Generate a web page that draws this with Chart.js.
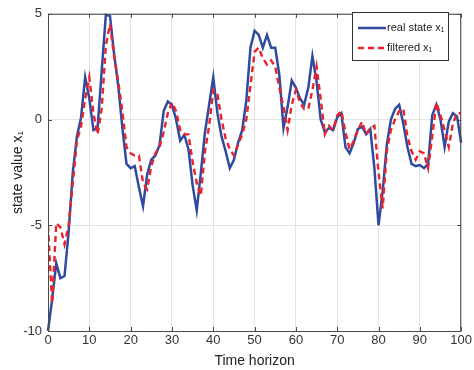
<!DOCTYPE html>
<html>
<head>
<meta charset="utf-8">
<script src="https://cdn.jsdelivr.net/npm/chart.js@4.4.0/dist/chart.umd.min.js"></script>
<style>
  html, body { margin: 0; padding: 0; background: #fff; }
  #wrap { width: 474px; height: 370px; }
</style>
</head>
<body>
<div id="wrap"><canvas id="myChart" width="474" height="370"></canvas></div>
<script>
// 時間軸 0..100
const timeSteps = Array.from({ length: 101 }, (_, i) => i);

// 実際の状態 x1
const realState = [
  -10, -8.5, -6.8, -7.5, -7.4, -5.3, -2.5, -0.8, 0.1, 2.0,
  1.0, -0.5, -0.4, 2.3, 4.95, 4.9, 3.1, 1.6, -0.4, -2.1,
  -2.3, -2.2, -3.2, -4.1, -2.6, -1.9, -1.7, -1.2, 0.4, 0.85,
  0.7, 0.0, -1.0, -0.72, -1.4, -3.1, -4.3, -2.5, -0.6, 0.7,
  2.0, 0.3, -0.8, -1.5, -2.3, -1.9, -1.1, -0.5, 0.9, 3.4,
  4.2, 4.0, 3.4, 4.0, 3.4, 3.4, 2.1, -0.4, 0.6, 1.85,
  1.5, 1.0, 0.7, 1.5, 3.0, 1.8, 0.0, -0.6, -0.4, -0.5,
  0.1, 0.3, -1.3, -1.6, -1.1, -0.45, -0.34, -0.7, -0.45, -2.3,
  -5.0, -3.4, -1.2, 0.0, 0.5, 0.7, -0.2, -1.3, -2.1, -2.2,
  -2.15, -2.3, -2.1, 0.2, 0.7, 0.0, -1.3, -0.1, 0.3, 0.15,
  -1.1
];

// フィルタ推定値 x1
const filtered = [
  -5.0, -8.7, -4.9, -5.1, -5.9, -5.0, -3.0, -1.0, -0.3, 1.0,
  2.0, 0.3, -0.7, 0.5, 3.5, 4.5, 3.0, 1.8, 0.4, -1.3,
  -1.6, -1.7, -1.7, -3.0, -3.3, -2.2, -1.6, -1.3, -0.6, 0.3,
  0.8, 0.4, -0.5, -0.7, -0.7, -2.0, -3.0, -3.6, -1.5, -0.3,
  1.4, 1.2, 0.0, -0.9, -1.4, -1.7, -1.2, -0.7, 0.0, 1.6,
  3.2, 3.4, 2.9, 2.6, 2.8, 2.5, 1.5, 0.6, -0.5, 0.7,
  1.4, 0.8, 0.5, 0.5, 1.4, 2.5, 1.0, -0.7, -0.3, -0.5,
  0.2, 0.4, -0.6, -1.4, -1.0, -0.5, -0.1, -0.7, -0.4, -0.3,
  -2.5, -4.2, -1.5, -0.5, 0.0, 0.4, 0.5, -0.8, -1.5, -1.9,
  -1.5, -1.6, -2.3, -0.8, 0.8, 0.2, -0.5, -1.3, -0.2, 0.3,
  0.3
];

const xTicks = { min: 0, max: 100, step: 10 };
const yTicks = { min: -10, max: 5, step: 5 };

const blue = '#2f4b9f';
const red = '#e8232d';
const axisColor = '#4a4a4a';

// 枠と内向きの目盛り、凡例を描くプラグイン
const boxPlugin = {
  id: 'boxPlugin',
  afterDatasetsDraw(chart) {
    const { ctx, chartArea: a, scales } = chart;
    ctx.save();
    ctx.strokeStyle = axisColor;
    ctx.lineWidth = 1;
    ctx.strokeRect(a.left + 0.5, a.top + 0.5, a.right - a.left - 1, a.bottom - a.top);
    ctx.beginPath();
    scales.x.ticks.forEach(t => {
      const px = Math.round(scales.x.getPixelForValue(t.value)) + 0.5;
      ctx.moveTo(px, a.bottom); ctx.lineTo(px, a.bottom - 4);
      ctx.moveTo(px, a.top); ctx.lineTo(px, a.top + 4);
    });
    scales.y.ticks.forEach(t => {
      const py = Math.round(scales.y.getPixelForValue(t.value)) + 0.5;
      ctx.moveTo(a.left, py); ctx.lineTo(a.left + 4, py);
      ctx.moveTo(a.right, py); ctx.lineTo(a.right - 4, py);
    });
    ctx.stroke();

    // 凡例
    const lx = 352, ly = 12, lw = 96, lh = 48;
    ctx.fillStyle = '#fff';
    ctx.fillRect(lx, ly, lw, lh);
    ctx.strokeStyle = '#333';
    ctx.strokeRect(lx + 0.5, ly + 0.5, lw, lh);
    ctx.font = '11px "Liberation Sans", Arial, sans-serif';
    ctx.textBaseline = 'middle';
    chart.data.datasets.forEach((ds, i) => {
      const y = ly + 16 + i * 20;
      ctx.strokeStyle = ds.borderColor;
      ctx.lineWidth = 2.5;
      ctx.setLineDash(ds.borderDash || []);
      ctx.beginPath();
      ctx.moveTo(lx + 6, y); ctx.lineTo(lx + 34, y);
      ctx.stroke();
      ctx.setLineDash([]);
      ctx.fillStyle = '#222';
      ctx.fillText(ds.label, lx + 35, y);
    });
    ctx.restore();
  }
};

const data = {
  labels: timeSteps,
  datasets: [{
    label: 'real state x₁',
    data: realState,
    borderColor: blue,
    backgroundColor: blue,
    borderWidth: 2.5,
    pointRadius: 0,
    tension: 0,
    clip: 3,
    order: 2
  }, {
    label: 'filtered x₁',
    data: filtered,
    borderColor: red,
    backgroundColor: red,
    borderWidth: 2.4,
    borderDash: [6, 4],
    pointRadius: 0,
    tension: 0,
    order: 1
  }]
};

const config = {
  type: 'line',
  data: data,
  options: {
    responsive: false,
    animation: false,
    layout: { padding: { top: 5, right: 11, left: 0, bottom: 0 } },
    plugins: {
      legend: { display: false },
      tooltip: { enabled: false }
    },
    scales: {
      x: {
        type: 'linear',
        min: xTicks.min,
        max: xTicks.max,
        ticks: {
          stepSize: xTicks.step,
          color: '#333',
          font: { size: 13, family: '"Liberation Sans", Arial, sans-serif' },
          padding: 2,
          maxRotation: 0
        },
        grid: { color: '#e3e3e3', drawTicks: false },
        border: { display: false },
        title: {
          display: true,
          text: 'Time horizon',
          color: '#222',
          font: { size: 14, family: '"Liberation Sans", Arial, sans-serif' },
          padding: { top: 2, bottom: 0 }
        },
        afterFit(scale) { scale.height = 39; }
      },
      y: {
        min: yTicks.min,
        max: yTicks.max,
        ticks: {
          stepSize: yTicks.step,
          color: '#333',
          font: { size: 13, family: '"Liberation Sans", Arial, sans-serif' },
          padding: 6
        },
        grid: { color: '#e3e3e3', drawTicks: false },
        border: { display: false },
        title: {
          display: true,
          text: 'state value x₁',
          color: '#222',
          font: { size: 14, family: '"Liberation Sans", Arial, sans-serif' },
          padding: { top: 10, bottom: 0 }
        },
        afterFit(scale) { scale.width = 48; }
      }
    }
  },
  plugins: [boxPlugin]
};

const myChart = new Chart(document.getElementById('myChart'), config);
</script>
</body>
</html>
